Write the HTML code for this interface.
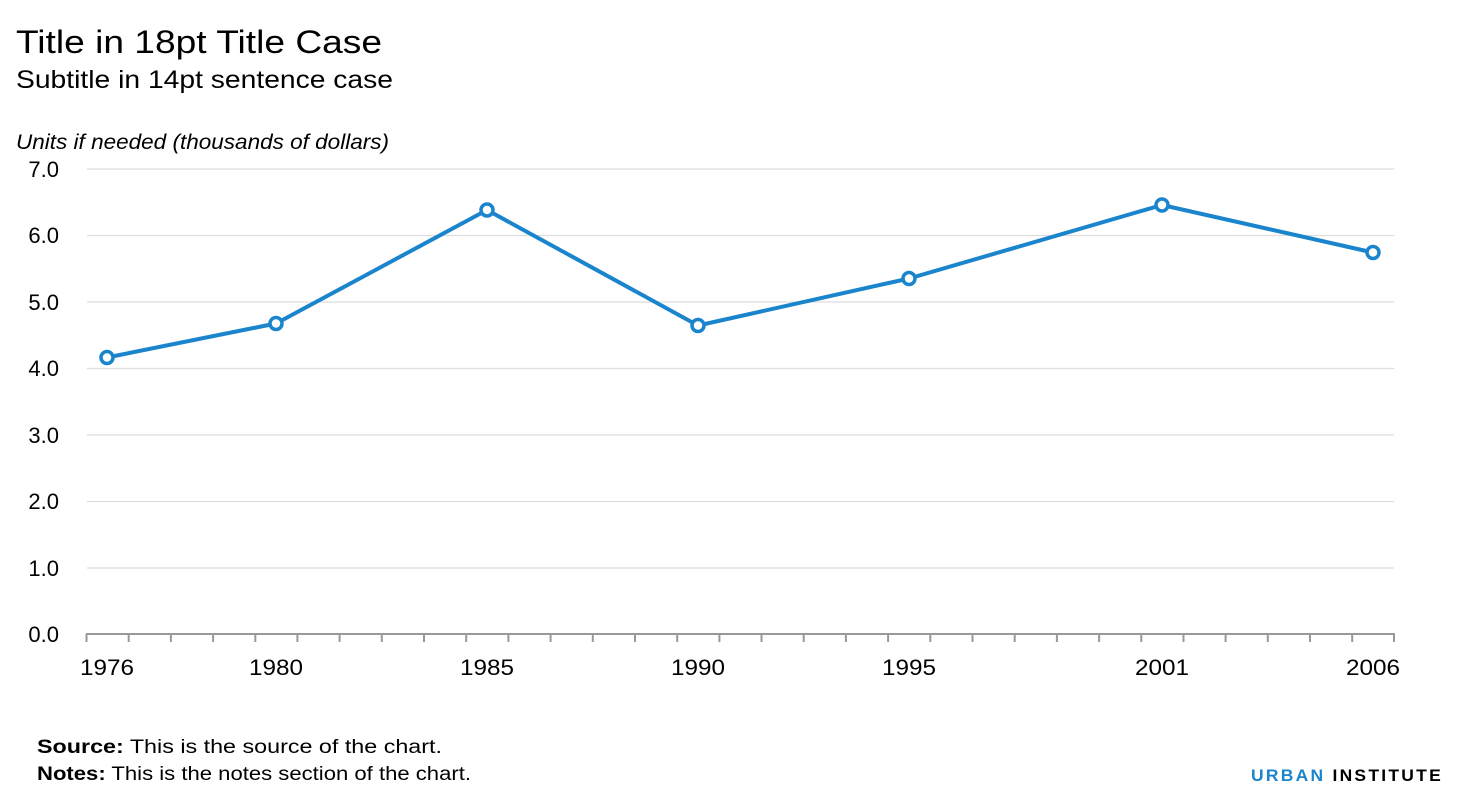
<!DOCTYPE html>
<html><head><meta charset="utf-8"><style>html,body{margin:0;padding:0;background:#fff}svg{display:block}</style></head>
<body>
<svg width="1459" height="795" viewBox="0 0 1459 795" xmlns="http://www.w3.org/2000/svg" font-family="Liberation Sans, sans-serif">
<text x="16" y="53" font-size="32" fill="#000" textLength="366" lengthAdjust="spacingAndGlyphs">Title in 18pt Title Case</text>
<text x="16" y="88" font-size="25" fill="#000" textLength="377" lengthAdjust="spacingAndGlyphs">Subtitle in 14pt sentence case</text>
<text x="16" y="149" font-size="21" font-style="italic" fill="#000" textLength="373" lengthAdjust="spacingAndGlyphs">Units if needed (thousands of dollars)</text>
<g stroke="#dedede" stroke-width="1.3">
<line x1="87" x2="1394" y1="169" y2="169"/><line x1="87" x2="1394" y1="235.5" y2="235.5"/>
<line x1="87" x2="1394" y1="302" y2="302"/><line x1="87" x2="1394" y1="368.5" y2="368.5"/>
<line x1="87" x2="1394" y1="435" y2="435"/><line x1="87" x2="1394" y1="501.5" y2="501.5"/>
<line x1="87" x2="1394" y1="568" y2="568"/>
</g>
<g font-size="22" fill="#000" text-anchor="end">
<text x="59" y="177">7.0</text><text x="59" y="243">6.0</text><text x="59" y="310">5.0</text>
<text x="59" y="376">4.0</text><text x="59" y="443">3.0</text><text x="59" y="509">2.0</text>
<text x="59" y="576">1.0</text><text x="59" y="642">0.0</text>
</g>
<g stroke="#999" stroke-width="2">
<line x1="86" x2="1395" y1="634" y2="634"/>
<path d="M86.5 634v8M128.7 634v8M170.9 634v8M213.1 634v8M255.3 634v8M297.4 634v8M339.6 634v8M381.8 634v8M424 634v8M466.2 634v8M508.4 634v8M550.6 634v8M592.8 634v8M635 634v8M677.2 634v8M719.4 634v8M761.5 634v8M803.7 634v8M845.9 634v8M888.1 634v8M930.3 634v8M972.5 634v8M1014.7 634v8M1056.9 634v8M1099.1 634v8M1141.3 634v8M1183.5 634v8M1225.6 634v8M1267.8 634v8M1310 634v8M1352.2 634v8M1394 634v8"/>
</g>
<g font-size="22" fill="#000" text-anchor="middle">
<text x="107" y="675" textLength="54" lengthAdjust="spacingAndGlyphs">1976</text>
<text x="276" y="675" textLength="54" lengthAdjust="spacingAndGlyphs">1980</text>
<text x="487" y="675" textLength="54" lengthAdjust="spacingAndGlyphs">1985</text>
<text x="698" y="675" textLength="54" lengthAdjust="spacingAndGlyphs">1990</text>
<text x="909" y="675" textLength="54" lengthAdjust="spacingAndGlyphs">1995</text>
<text x="1162" y="675" textLength="54" lengthAdjust="spacingAndGlyphs">2001</text>
<text x="1373" y="675" textLength="54" lengthAdjust="spacingAndGlyphs">2006</text>
</g>
<polyline fill="none" stroke="#1a84cc" stroke-width="4" stroke-linejoin="round" points="107,357.5 276,323.5 487,210 698,325.5 909,278.5 1162,205 1373,252.5"/>
<g fill="#fff" stroke="#1a84cc" stroke-width="3.5">
<circle cx="107" cy="357.5" r="6"/><circle cx="276" cy="323.5" r="6"/><circle cx="487" cy="210" r="6"/>
<circle cx="698" cy="325.5" r="6"/><circle cx="909" cy="278.5" r="6"/><circle cx="1162" cy="205" r="6"/>
<circle cx="1373" cy="252.5" r="6"/>
</g>
<text x="37" y="753" font-size="19" fill="#000" textLength="405" lengthAdjust="spacingAndGlyphs"><tspan font-weight="bold">Source:</tspan> This is the source of the chart.</text>
<text x="37" y="780" font-size="19" fill="#000" textLength="434" lengthAdjust="spacingAndGlyphs"><tspan font-weight="bold">Notes:</tspan> This is the notes section of the chart.</text>
<text x="1251" y="781" font-size="17" font-weight="bold" letter-spacing="2.2" textLength="192" lengthAdjust="spacingAndGlyphs"><tspan fill="#1a84cc">URBAN</tspan><tspan fill="#000"> INSTITUTE</tspan></text>
</svg>
</body></html>
